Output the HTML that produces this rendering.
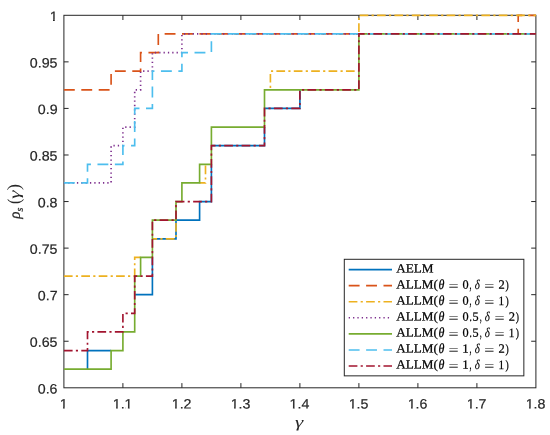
<!DOCTYPE html>
<html><head><meta charset="utf-8"><title>rho_s(gamma) profile</title>
<style>html,body{margin:0;padding:0;background:#fff}svg{display:block}text{text-rendering:geometricPrecision}.tk{font-family:"Liberation Sans",sans-serif;fill:#262626;stroke:#262626;stroke-width:0.2px}.lg{font-family:"Liberation Serif",serif;fill:#000;stroke:#000;stroke-width:0.25px}.ml{font-family:"Liberation Serif",serif;fill:#262626}.mi{font-family:"Liberation Serif",serif;font-style:italic}</style></head><body>
<svg width="550" height="435" viewBox="0 0 550 435">
<rect width="550" height="435" fill="#fff"/>
<rect x="63.9" y="15.3" width="472.00" height="372.50" fill="none" stroke="#262626" stroke-width="1.0"/>
<path d="M122.90 387.8v-4.7M122.90 15.3v4.7M181.90 387.8v-4.7M181.90 15.3v4.7M240.90 387.8v-4.7M240.90 15.3v4.7M299.90 387.8v-4.7M299.90 15.3v4.7M358.90 387.8v-4.7M358.90 15.3v4.7M417.90 387.8v-4.7M417.90 15.3v4.7M476.90 387.8v-4.7M476.90 15.3v4.7M63.9 341.24h4.7M535.9 341.24h-4.7M63.9 294.68h4.7M535.9 294.68h-4.7M63.9 248.11h4.7M535.9 248.11h-4.7M63.9 201.55h4.7M535.9 201.55h-4.7M63.9 154.99h4.7M535.9 154.99h-4.7M63.9 108.42h4.7M535.9 108.42h-4.7M63.9 61.86h4.7M535.9 61.86h-4.7" stroke="#262626" stroke-width="1.0" fill="none"/>
<defs><clipPath id="cA"><path d="M-3 -20H40V-1.52H-3ZM3.17 -1.62H4.87V1H3.17ZM7.21 -1.62H40V3H7.21Z"/></clipPath><clipPath id="cB"><path d="M-3 -20H40V-1.52H-3ZM3.17 -1.62H4.87V1H3.17ZM7.21 -1.62H12.17V3H7.21ZM14.51 -1.62H16.21V1H14.51Z"/></clipPath></defs>
<text class="tk" transform="translate(59.66 408.40) rotate(0.03) scale(1.045 1)" font-size="13.6" clip-path="url(#cA)">1</text>
<text class="tk" transform="translate(112.73 408.40) rotate(0.03) scale(1.045 1)" font-size="13.6" clip-path="url(#cB)">1.1</text>
<text class="tk" transform="translate(171.75 408.40) rotate(0.03) scale(1.045 1)" font-size="13.6" clip-path="url(#cA)">1.2</text>
<text class="tk" transform="translate(230.69 408.40) rotate(0.03) scale(1.045 1)" font-size="13.6" clip-path="url(#cA)">1.3</text>
<text class="tk" transform="translate(289.59 408.40) rotate(0.03) scale(1.045 1)" font-size="13.6" clip-path="url(#cA)">1.4</text>
<text class="tk" transform="translate(348.67 408.40) rotate(0.03) scale(1.045 1)" font-size="13.6" clip-path="url(#cA)">1.5</text>
<text class="tk" transform="translate(407.69 408.40) rotate(0.03) scale(1.045 1)" font-size="13.6" clip-path="url(#cA)">1.6</text>
<text class="tk" transform="translate(466.75 408.40) rotate(0.03) scale(1.045 1)" font-size="13.6" clip-path="url(#cA)">1.7</text>
<text class="tk" transform="translate(525.69 408.40) rotate(0.03) scale(1.045 1)" font-size="13.6" clip-path="url(#cA)">1.8</text>
<text class="tk" transform="translate(37.75 393.40) rotate(0.03) scale(1.045 1)" font-size="13.6">0.6</text>
<text class="tk" transform="translate(29.83 346.84) rotate(0.03) scale(1.045 1)" font-size="13.6">0.65</text>
<text class="tk" transform="translate(37.86 300.28) rotate(0.03) scale(1.045 1)" font-size="13.6">0.7</text>
<text class="tk" transform="translate(29.83 253.71) rotate(0.03) scale(1.045 1)" font-size="13.6">0.75</text>
<text class="tk" transform="translate(37.75 207.15) rotate(0.03) scale(1.045 1)" font-size="13.6">0.8</text>
<text class="tk" transform="translate(29.83 160.59) rotate(0.03) scale(1.045 1)" font-size="13.6">0.85</text>
<text class="tk" transform="translate(37.78 114.02) rotate(0.03) scale(1.045 1)" font-size="13.6">0.9</text>
<text class="tk" transform="translate(29.83 67.46) rotate(0.03) scale(1.045 1)" font-size="13.6">0.95</text>
<text class="tk" transform="translate(49.69 20.90) rotate(0.03) scale(1.045 1)" font-size="13.6" clip-path="url(#cA)">1</text>
<text class="ml mi" transform="translate(295.03 427.20) rotate(0.03) scale(1.338 1)" font-size="15.6">γ</text>
<text class="ml" transform="translate(19.75 219) rotate(-90.03)"><tspan class="mi" x="0.27" y="0.00" font-size="15.6" textLength="7.17" lengthAdjust="spacingAndGlyphs" stroke="#262626" stroke-width="0.3">ρ</tspan><tspan class="mi" x="7.58" y="3.00" font-size="10.2" textLength="3.84" lengthAdjust="spacingAndGlyphs" stroke="#262626" stroke-width="0.25">s</tspan><tspan x="14.88" y="0.00" font-size="18.3" textLength="5.35" lengthAdjust="spacingAndGlyphs">(</tspan><tspan class="mi" x="19.92" y="0.00" font-size="15.6" textLength="8.62" lengthAdjust="spacingAndGlyphs">γ</tspan><tspan x="28.77" y="0.00" font-size="18.3" textLength="6.47" lengthAdjust="spacingAndGlyphs">)</tspan></text>
<path d="M87.50 369.18L87.50 350.55L111.10 350.55" fill="none" stroke="#0072BD" stroke-width="1.65" stroke-linejoin="miter"/>
<path d="M134.70 294.68L152.40 294.68L152.40 257.43" fill="none" stroke="#0072BD" stroke-width="1.65" stroke-linejoin="miter"/>
<path d="M152.40 238.80L176.00 238.80L176.00 220.17L199.60 220.17L199.60 201.55L211.40 201.55L211.40 164.30" fill="none" stroke="#0072BD" stroke-width="1.65" stroke-linejoin="miter"/>
<path d="M211.40 145.68L264.50 145.68L264.50 127.05" fill="none" stroke="#0072BD" stroke-width="1.65" stroke-linejoin="miter"/>
<path d="M264.50 108.42L299.90 108.42L299.90 89.80" fill="none" stroke="#0072BD" stroke-width="1.65" stroke-linejoin="miter"/>
<path d="M63.90 89.80L111.10 89.80L111.10 71.18L140.60 71.18L140.60 52.55L158.30 52.55L158.30 33.93L358.90 33.93" fill="none" stroke="#D95319" stroke-width="1.65" stroke-linejoin="miter" stroke-dasharray="10.88 6.52"/>
<path d="M518.20 33.93L518.20 15.30L535.90 15.30" fill="none" stroke="#D95319" stroke-width="1.65" stroke-linejoin="miter" stroke-dasharray="10.88 6.52" stroke-dashoffset="510.18"/>
<path d="M63.90 276.05L134.70 276.05L134.70 257.43L140.60 257.43" fill="none" stroke="#EDB120" stroke-width="1.65" stroke-linejoin="miter" stroke-dasharray="8.70 3.26 2.17 3.26"/>
<path d="M152.40 238.80L176.00 238.80L176.00 220.17" fill="none" stroke="#EDB120" stroke-width="1.65" stroke-linejoin="miter" stroke-dasharray="8.70 3.26 2.17 3.26" stroke-dashoffset="125.75"/>
<path d="M199.60 182.93L205.50 182.93L205.50 164.30" fill="none" stroke="#EDB120" stroke-width="1.65" stroke-linejoin="miter" stroke-dasharray="8.70 3.26 2.17 3.26" stroke-dashoffset="228.82"/>
<path d="M270.40 89.80L270.40 71.18L358.90 71.18" fill="none" stroke="#EDB120" stroke-width="1.65" stroke-linejoin="miter" stroke-dasharray="8.70 3.26 2.17 3.26" stroke-dashoffset="392.75"/>
<path d="M358.90 33.93L358.90 15.30L535.90 15.30" fill="none" stroke="#EDB120" stroke-width="1.65" stroke-linejoin="miter" stroke-dasharray="8.70 3.26 2.17 3.26" stroke-dashoffset="537.12"/>
<path d="M63.90 182.93L111.10 182.93L111.10 145.68L122.90 145.68L122.90 127.05L134.70 127.05L134.70 89.80L140.60 89.80L140.60 71.18L152.40 71.18L152.40 52.55L181.90 52.55L181.90 33.93L358.90 33.93" fill="none" stroke="#7E2F8E" stroke-width="1.65" stroke-linejoin="miter" stroke-dasharray="1.30 3.04"/>
<path d="M63.90 369.18L111.10 369.18L111.10 350.55L122.90 350.55L122.90 331.92L134.70 331.92L134.70 276.05L140.60 276.05L140.60 257.43L152.40 257.43L152.40 220.17L176.00 220.17L176.00 201.55L181.90 201.55L181.90 182.93L199.60 182.93L199.60 164.30L211.40 164.30L211.40 127.05L264.50 127.05L264.50 89.80L358.90 89.80L358.90 33.93L535.90 33.93" fill="none" stroke="#77AC30" stroke-width="1.65" stroke-linejoin="miter"/>
<path d="M63.90 182.93L87.50 182.93L87.50 164.30L122.90 164.30L122.90 145.68L134.70 145.68L134.70 108.42L152.40 108.42L152.40 71.18L181.90 71.18L181.90 52.55L211.40 52.55L211.40 33.93L535.90 33.93" fill="none" stroke="#4DBEEE" stroke-width="1.65" stroke-linejoin="miter" stroke-dasharray="10.88 6.52"/>
<path d="M63.90 350.55L87.50 350.55L87.50 331.92L122.90 331.92L122.90 313.30L134.70 313.30L134.70 276.05L152.40 276.05L152.40 220.17L176.00 220.17L176.00 201.55L211.40 201.55L211.40 145.68L264.50 145.68L264.50 108.42L299.90 108.42L299.90 89.80L358.90 89.80L358.90 33.93L535.90 33.93" fill="none" stroke="#A2142F" stroke-width="1.65" stroke-linejoin="miter" stroke-dasharray="8.70 3.26 2.17 3.26"/>
<rect x="344.3" y="259.3" width="179.55" height="116.55" fill="#fff" stroke="#262626" stroke-width="1.0"/>
<path d="M348.7 269.55H392" fill="none" stroke="#0072BD" stroke-width="1.65"/>
<text class="lg" transform="translate(396.0 272.60) rotate(0.03)"><tspan x="0.27" y="0.00" font-size="12.7" textLength="37.30" lengthAdjust="spacingAndGlyphs">AELM</tspan></text>
<path d="M348.7 285.63H392" fill="none" stroke="#D95319" stroke-width="1.65" stroke-dasharray="10.88 6.52"/>
<text class="lg" transform="translate(396.0 288.60) rotate(0.03)"><tspan x="0.27" y="0.00" font-size="12.7" textLength="41.57" lengthAdjust="spacingAndGlyphs">ALLM(</tspan><tspan class="mi" x="42.40" y="0.00" font-size="13.9" textLength="5.88" lengthAdjust="spacingAndGlyphs">θ</tspan> <tspan x="52.61" y="1.30" font-size="12.7" textLength="10.07" lengthAdjust="spacingAndGlyphs" stroke-width="0.05">=</tspan> <tspan x="66.54" y="0.00" font-size="12.7" textLength="6.12" lengthAdjust="spacingAndGlyphs">0</tspan><tspan x="73.60" y="0.00" font-size="15.5" textLength="2.00" lengthAdjust="spacingAndGlyphs">,</tspan> <tspan class="mi" x="78.67" y="0.00" font-size="13.5" textLength="5.09" lengthAdjust="spacingAndGlyphs" stroke-width="0.1">δ</tspan> <tspan x="88.31" y="1.30" font-size="12.7" textLength="10.07" lengthAdjust="spacingAndGlyphs" stroke-width="0.05">=</tspan> <tspan x="102.44" y="0.00" font-size="12.7" textLength="6.25" lengthAdjust="spacingAndGlyphs">2</tspan><tspan x="109.48" y="0.00" font-size="12.7" textLength="3.23" lengthAdjust="spacingAndGlyphs">)</tspan></text>
<path d="M348.7 301.71H392" fill="none" stroke="#EDB120" stroke-width="1.65" stroke-dasharray="8.70 3.26 2.17 3.26"/>
<text class="lg" transform="translate(396.0 304.60) rotate(0.03)"><tspan x="0.27" y="0.00" font-size="12.7" textLength="41.57" lengthAdjust="spacingAndGlyphs">ALLM(</tspan><tspan class="mi" x="42.40" y="0.00" font-size="13.9" textLength="5.88" lengthAdjust="spacingAndGlyphs">θ</tspan> <tspan x="52.61" y="1.30" font-size="12.7" textLength="10.07" lengthAdjust="spacingAndGlyphs" stroke-width="0.05">=</tspan> <tspan x="66.54" y="0.00" font-size="12.7" textLength="6.12" lengthAdjust="spacingAndGlyphs">0</tspan><tspan x="73.60" y="0.00" font-size="15.5" textLength="2.00" lengthAdjust="spacingAndGlyphs">,</tspan> <tspan class="mi" x="78.67" y="0.00" font-size="13.5" textLength="5.09" lengthAdjust="spacingAndGlyphs" stroke-width="0.1">δ</tspan> <tspan x="88.31" y="1.30" font-size="12.7" textLength="10.07" lengthAdjust="spacingAndGlyphs" stroke-width="0.05">=</tspan> <tspan x="102.57" y="0.00" font-size="12.7" textLength="5.60" lengthAdjust="spacingAndGlyphs">1</tspan><tspan x="109.48" y="0.00" font-size="12.7" textLength="3.23" lengthAdjust="spacingAndGlyphs">)</tspan></text>
<path d="M348.7 317.79H392" fill="none" stroke="#7E2F8E" stroke-width="1.65" stroke-dasharray="1.30 3.04"/>
<text class="lg" transform="translate(396.0 320.60) rotate(0.03)"><tspan x="0.27" y="0.00" font-size="12.7" textLength="41.57" lengthAdjust="spacingAndGlyphs">ALLM(</tspan><tspan class="mi" x="42.40" y="0.00" font-size="13.9" textLength="5.88" lengthAdjust="spacingAndGlyphs">θ</tspan> <tspan x="52.61" y="1.30" font-size="12.7" textLength="10.07" lengthAdjust="spacingAndGlyphs" stroke-width="0.05">=</tspan> <tspan x="66.54" y="0.00" font-size="12.7" textLength="6.12" lengthAdjust="spacingAndGlyphs">0</tspan><tspan x="73.60" y="0.00" font-size="15.5" textLength="2.29" lengthAdjust="spacingAndGlyphs">.</tspan><tspan x="76.50" y="0.00" font-size="12.7" textLength="6.09" lengthAdjust="spacingAndGlyphs">5</tspan><tspan x="83.80" y="0.00" font-size="15.5" textLength="2.00" lengthAdjust="spacingAndGlyphs">,</tspan> <tspan class="mi" x="88.87" y="0.00" font-size="13.5" textLength="5.09" lengthAdjust="spacingAndGlyphs" stroke-width="0.1">δ</tspan> <tspan x="98.51" y="1.30" font-size="12.7" textLength="10.07" lengthAdjust="spacingAndGlyphs" stroke-width="0.05">=</tspan> <tspan x="112.64" y="0.00" font-size="12.7" textLength="6.25" lengthAdjust="spacingAndGlyphs">2</tspan><tspan x="119.68" y="0.00" font-size="12.7" textLength="3.23" lengthAdjust="spacingAndGlyphs">)</tspan></text>
<path d="M348.7 333.87H392" fill="none" stroke="#77AC30" stroke-width="1.65"/>
<text class="lg" transform="translate(396.0 336.60) rotate(0.03)"><tspan x="0.27" y="0.00" font-size="12.7" textLength="41.57" lengthAdjust="spacingAndGlyphs">ALLM(</tspan><tspan class="mi" x="42.40" y="0.00" font-size="13.9" textLength="5.88" lengthAdjust="spacingAndGlyphs">θ</tspan> <tspan x="52.61" y="1.30" font-size="12.7" textLength="10.07" lengthAdjust="spacingAndGlyphs" stroke-width="0.05">=</tspan> <tspan x="66.54" y="0.00" font-size="12.7" textLength="6.12" lengthAdjust="spacingAndGlyphs">0</tspan><tspan x="73.60" y="0.00" font-size="15.5" textLength="2.29" lengthAdjust="spacingAndGlyphs">.</tspan><tspan x="76.50" y="0.00" font-size="12.7" textLength="6.09" lengthAdjust="spacingAndGlyphs">5</tspan><tspan x="83.80" y="0.00" font-size="15.5" textLength="2.00" lengthAdjust="spacingAndGlyphs">,</tspan> <tspan class="mi" x="88.87" y="0.00" font-size="13.5" textLength="5.09" lengthAdjust="spacingAndGlyphs" stroke-width="0.1">δ</tspan> <tspan x="98.51" y="1.30" font-size="12.7" textLength="10.07" lengthAdjust="spacingAndGlyphs" stroke-width="0.05">=</tspan> <tspan x="112.77" y="0.00" font-size="12.7" textLength="5.60" lengthAdjust="spacingAndGlyphs">1</tspan><tspan x="119.68" y="0.00" font-size="12.7" textLength="3.23" lengthAdjust="spacingAndGlyphs">)</tspan></text>
<path d="M348.7 349.95H392" fill="none" stroke="#4DBEEE" stroke-width="1.65" stroke-dasharray="10.88 6.52"/>
<text class="lg" transform="translate(396.0 352.60) rotate(0.03)"><tspan x="0.27" y="0.00" font-size="12.7" textLength="41.57" lengthAdjust="spacingAndGlyphs">ALLM(</tspan><tspan class="mi" x="42.40" y="0.00" font-size="13.9" textLength="5.88" lengthAdjust="spacingAndGlyphs">θ</tspan> <tspan x="52.61" y="1.30" font-size="12.7" textLength="10.07" lengthAdjust="spacingAndGlyphs" stroke-width="0.05">=</tspan> <tspan x="66.28" y="0.00" font-size="12.7" textLength="6.38" lengthAdjust="spacingAndGlyphs">1</tspan><tspan x="73.60" y="0.00" font-size="15.5" textLength="2.00" lengthAdjust="spacingAndGlyphs">,</tspan> <tspan class="mi" x="78.67" y="0.00" font-size="13.5" textLength="5.09" lengthAdjust="spacingAndGlyphs" stroke-width="0.1">δ</tspan> <tspan x="88.31" y="1.30" font-size="12.7" textLength="10.07" lengthAdjust="spacingAndGlyphs" stroke-width="0.05">=</tspan> <tspan x="102.44" y="0.00" font-size="12.7" textLength="6.25" lengthAdjust="spacingAndGlyphs">2</tspan><tspan x="109.48" y="0.00" font-size="12.7" textLength="3.23" lengthAdjust="spacingAndGlyphs">)</tspan></text>
<path d="M348.7 366.03H392" fill="none" stroke="#A2142F" stroke-width="1.65" stroke-dasharray="8.70 3.26 2.17 3.26"/>
<text class="lg" transform="translate(396.0 368.60) rotate(0.03)"><tspan x="0.27" y="0.00" font-size="12.7" textLength="41.57" lengthAdjust="spacingAndGlyphs">ALLM(</tspan><tspan class="mi" x="42.40" y="0.00" font-size="13.9" textLength="5.88" lengthAdjust="spacingAndGlyphs">θ</tspan> <tspan x="52.61" y="1.30" font-size="12.7" textLength="10.07" lengthAdjust="spacingAndGlyphs" stroke-width="0.05">=</tspan> <tspan x="66.28" y="0.00" font-size="12.7" textLength="6.38" lengthAdjust="spacingAndGlyphs">1</tspan><tspan x="73.60" y="0.00" font-size="15.5" textLength="2.00" lengthAdjust="spacingAndGlyphs">,</tspan> <tspan class="mi" x="78.67" y="0.00" font-size="13.5" textLength="5.09" lengthAdjust="spacingAndGlyphs" stroke-width="0.1">δ</tspan> <tspan x="88.31" y="1.30" font-size="12.7" textLength="10.07" lengthAdjust="spacingAndGlyphs" stroke-width="0.05">=</tspan> <tspan x="102.57" y="0.00" font-size="12.7" textLength="5.60" lengthAdjust="spacingAndGlyphs">1</tspan><tspan x="109.48" y="0.00" font-size="12.7" textLength="3.23" lengthAdjust="spacingAndGlyphs">)</tspan></text>
</svg></body></html>
